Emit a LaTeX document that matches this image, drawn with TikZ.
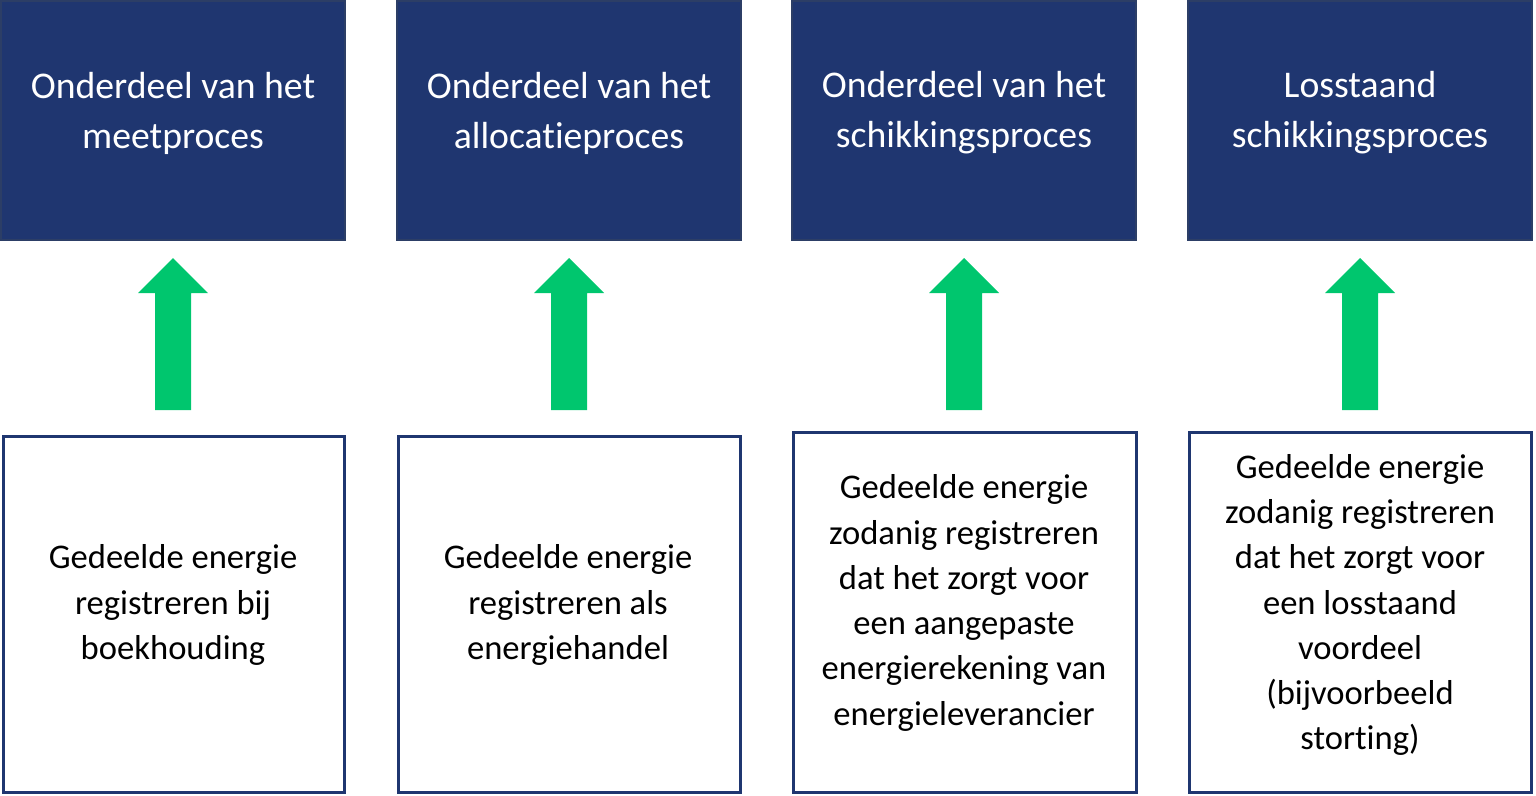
\documentclass[tikz,border=0pt]{standalone}
\usepackage{fontspec}
\setmainfont[RawFeature={-liga;-clig;-dlig}]{Carlito}
\definecolor{navy}{HTML}{1F3670}
\definecolor{navyedge}{HTML}{2C3E66}
\definecolor{arrowgreen}{HTML}{00C66E}
\tikzset{
  topbox/.style={draw=navyedge, line width=1.2pt, fill=navy},
  botbox/.style={draw=navy, line width=3pt, fill=white},
  toptext/.style={text=white, align=center, font=\fontsize{37.7}{50}\selectfont, inner sep=0pt},
  bottext/.style={text=black, align=center, font=\fontsize{34.6}{45.3}\selectfont, inner sep=0pt},
  uparrow/.style={fill=arrowgreen, draw=none},
}
\begin{document}
\begin{tikzpicture}[x=1pt,y=-1pt]
\useasboundingbox (0,0) rectangle (1536,795);
% top boxes
\draw[topbox] (1,1) rectangle (345,240);
\draw[topbox] (397,1) rectangle (741,240);
\draw[topbox] (792,1) rectangle (1136,240);
\draw[topbox] (1188,1) rectangle (1532,240);
\node[toptext] (t1) at (173,113) {Onderdeel van het\\meetproces};
\node[toptext] (t2) at (569,113) {Onderdeel van het\\allocatieproces};
\node[toptext] (t3) at (964,113) {Onderdeel van het\\schikkingsproces};
\node[toptext] (t4) at (1360,113) {Losstaand\\schikkingsproces};
% bottom boxes
\draw[botbox] (3,436) rectangle (344,792);
\draw[botbox] (398,436) rectangle (740,792);
\draw[botbox] (793,432) rectangle (1136,792);
\draw[botbox] (1189,432) rectangle (1531,792);
\node[bottext] (b1) at (173,605) {Gedeelde energie\\registreren bij\\boekhouding};
\node[bottext] (b2) at (568,605) {Gedeelde energie\\registreren als\\energiehandel};
\node[bottext] (b3) at (964,603) {Gedeelde energie\\zodanig registreren\\dat het zorgt voor\\een aangepaste\\energierekening van\\energieleverancier};
\node[bottext] (b4) at (1360,605) {Gedeelde energie\\zodanig registreren\\dat het zorgt voor\\een losstaand\\voordeel\\(bijvoorbeeld\\storting)};
% arrows
\foreach \cx in {173,569,964,1360}{
  \fill[uparrow] (\cx-18,410) -- (\cx-18,293) -- (\cx-35,293) -- (\cx,258) -- (\cx+35,293) -- (\cx+18,293) -- (\cx+18,410) -- cycle;
}
\end{tikzpicture}
\end{document}
